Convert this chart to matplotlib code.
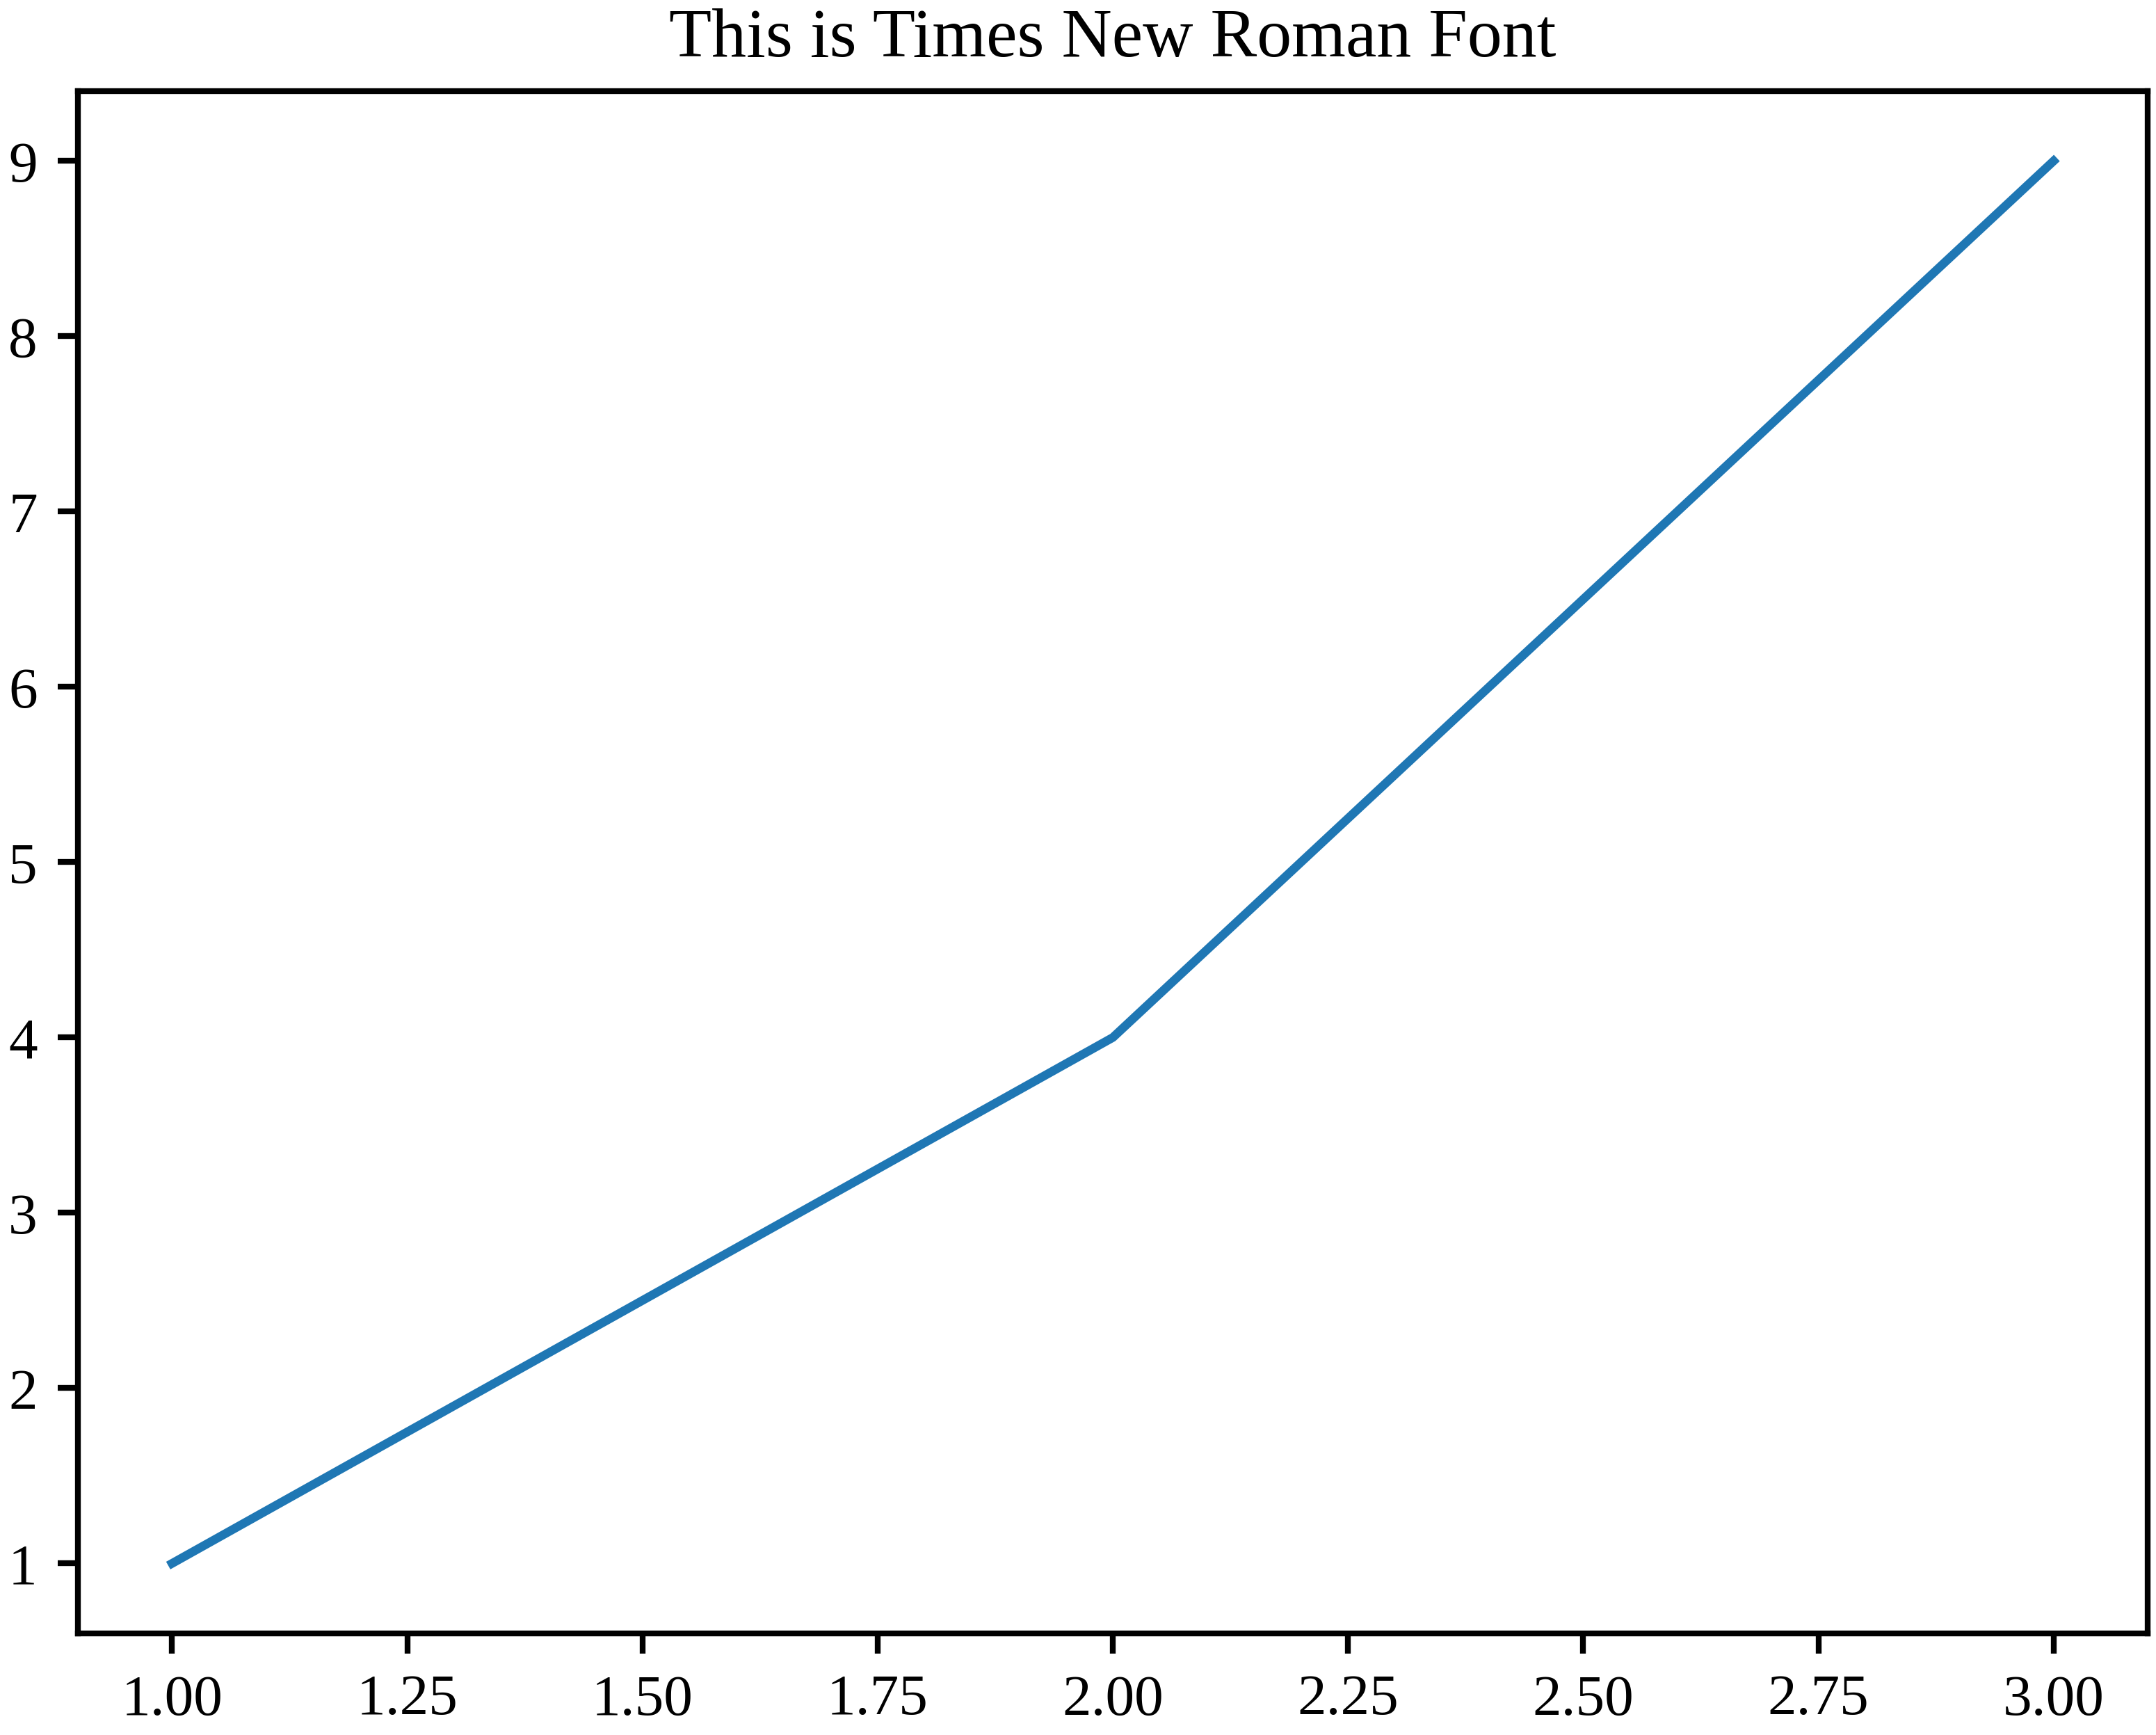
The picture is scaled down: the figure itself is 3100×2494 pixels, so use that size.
import matplotlib
matplotlib.use("Agg")
import matplotlib.pyplot as plt

# Times New Roman is not installed; Liberation Serif has the same metrics
plt.rcParams["font.family"] = ["Liberation Serif", "DejaVu Serif"]
plt.rcParams["axes.linewidth"] = 1.0
plt.rcParams["xtick.major.width"] = 1.0
plt.rcParams["ytick.major.width"] = 1.0

x = [1, 2, 3]
y = [1, 4, 9]

fig, ax = plt.subplots()
ax.plot(x, y, linewidth=1.5)
ax.set_title("This is Times New Roman Font")
fig.savefig("out.png", dpi=600, bbox_inches="tight", pad_inches=0.02)
